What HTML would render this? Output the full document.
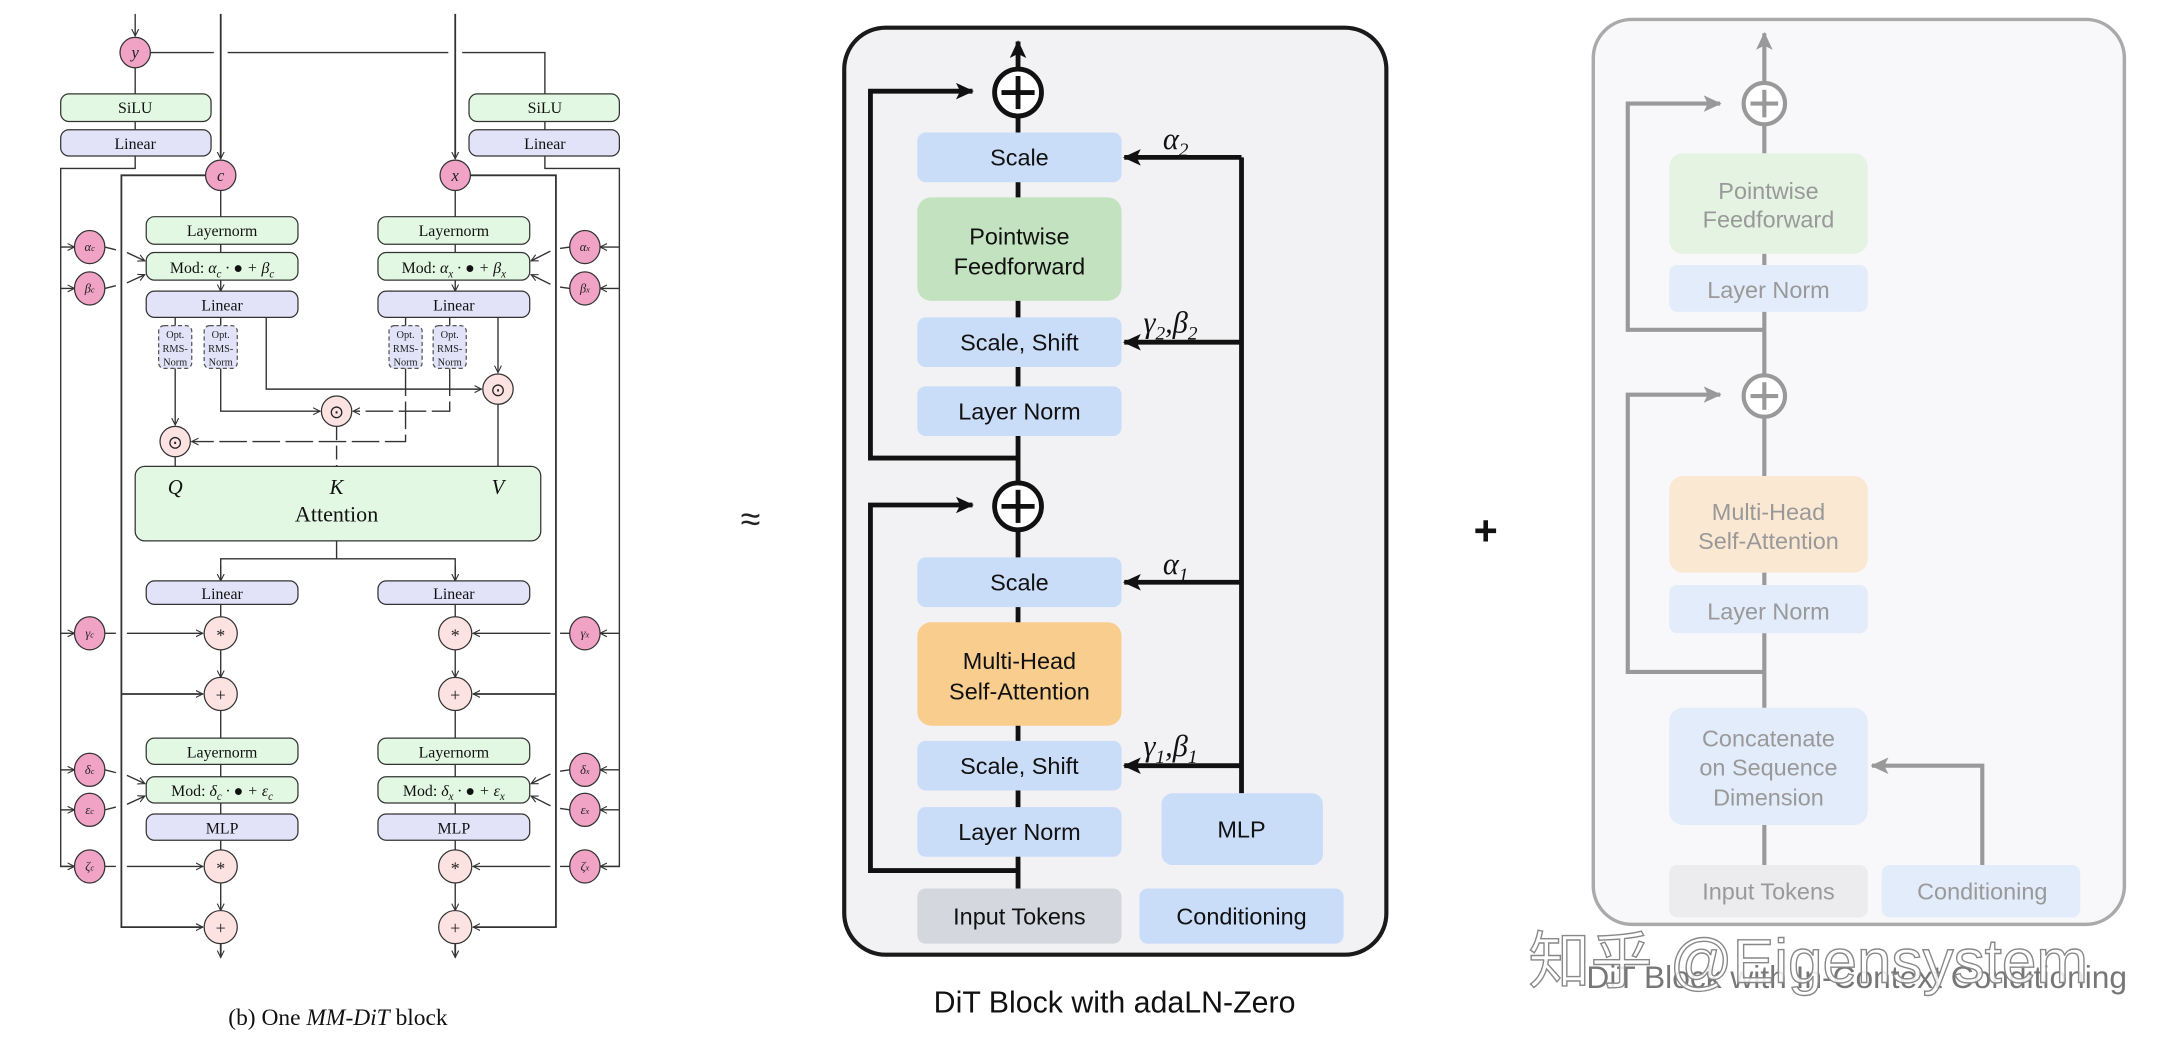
<!DOCTYPE html>
<html><head><meta charset="utf-8"><style>
html,body{margin:0;padding:0;background:#fff;width:2163px;height:1050px;overflow:hidden}
svg{display:block}
.serif{font-family:"Liberation Serif",serif}
.sans{font-family:"Liberation Sans",sans-serif}
</style></head><body>
<svg width="2163" height="1050" viewBox="0 0 1568 761" xmlns="http://www.w3.org/2000/svg">
<defs>
<marker id="a" markerWidth="6" markerHeight="6" refX="5" refY="3" orient="auto" markerUnits="userSpaceOnUse"><path d="M0,0.5 L5,3 L0,5.5" fill="none" stroke="#333" stroke-width="0.8"/></marker>
<marker id="b" markerWidth="14" markerHeight="12" refX="12" refY="6" orient="auto" markerUnits="userSpaceOnUse"><path d="M0,0 L13,6 L0,12 L3,6Z" fill="#111"/></marker>
<marker id="g" markerWidth="14" markerHeight="12" refX="12" refY="6" orient="auto" markerUnits="userSpaceOnUse"><path d="M0,0 L13,6 L0,12 L3,6Z" fill="#999"/></marker>
</defs>
<rect width="1568" height="761" fill="#fff"/>

<!-- ============ LEFT PANEL ============ -->
<g stroke="#333" stroke-width="1" fill="none">
<line x1="98" y1="10" x2="98" y2="26" marker-end="url(#a)"/>
<line x1="160" y1="10" x2="160" y2="115" marker-end="url(#a)" stroke-width="1.3"/>
<line x1="330" y1="10" x2="330" y2="115" marker-end="url(#a)" stroke-width="1.3"/>
<polyline points="109,38 155,38"/><polyline points="165,38 325,38"/><polyline points="335,38 395,38 395,68"/>
<line x1="98" y1="49" x2="98" y2="68"/>
<line x1="98" y1="88" x2="98" y2="94"/><line x1="395" y1="88" x2="395" y2="94"/>
<polyline points="98,113 98,122 44,122 44,628 55,628"/>
<polyline points="395,113 395,122 449,122 449,628 435,628"/>
<line x1="44" y1="179" x2="54" y2="179" marker-end="url(#a)"/><line x1="44" y1="209" x2="54" y2="209" marker-end="url(#a)"/>
<line x1="44" y1="459" x2="54" y2="459" marker-end="url(#a)"/><line x1="44" y1="558" x2="54" y2="558" marker-end="url(#a)"/>
<line x1="44" y1="587" x2="54" y2="587" marker-end="url(#a)"/><line x1="44" y1="628" x2="54" y2="628" marker-end="url(#a)"/>
<line x1="449" y1="179" x2="435" y2="179" marker-end="url(#a)"/><line x1="449" y1="209" x2="435" y2="209" marker-end="url(#a)"/>
<line x1="449" y1="459" x2="435" y2="459" marker-end="url(#a)"/><line x1="449" y1="558" x2="435" y2="558" marker-end="url(#a)"/>
<line x1="449" y1="587" x2="435" y2="587" marker-end="url(#a)"/><line x1="449" y1="628" x2="435" y2="628" marker-end="url(#a)"/>
<polyline points="149,127 88,127 88,672 147,672" stroke-width="1.3" marker-end="url(#a)"/>
<line x1="88" y1="503" x2="147" y2="503" stroke-width="1.3" marker-end="url(#a)"/>
<polyline points="341,127 403,127 403,672 343,672" stroke-width="1.3" marker-end="url(#a)"/>
<line x1="403" y1="503" x2="343" y2="503" stroke-width="1.3" marker-end="url(#a)"/>
<line x1="76" y1="179" x2="84" y2="181"/><line x1="92" y1="183" x2="105" y2="189" marker-end="url(#a)"/>
<line x1="76" y1="209" x2="84" y2="207"/><line x1="92" y1="205" x2="105" y2="199" marker-end="url(#a)"/>
<line x1="76" y1="558" x2="84" y2="560"/><line x1="92" y1="562" x2="105" y2="568" marker-end="url(#a)"/>
<line x1="76" y1="587" x2="84" y2="585"/><line x1="92" y1="583" x2="105" y2="577" marker-end="url(#a)"/>
<line x1="76" y1="459" x2="84" y2="459"/><line x1="92" y1="459" x2="147" y2="459" marker-end="url(#a)"/>
<line x1="76" y1="628" x2="84" y2="628"/><line x1="92" y1="628" x2="147" y2="628" marker-end="url(#a)"/>
<line x1="413" y1="179" x2="406" y2="180"/><line x1="399" y1="182" x2="385" y2="189" marker-end="url(#a)"/>
<line x1="413" y1="209" x2="406" y2="208"/><line x1="399" y1="206" x2="385" y2="199" marker-end="url(#a)"/>
<line x1="413" y1="558" x2="406" y2="559"/><line x1="399" y1="561" x2="385" y2="568" marker-end="url(#a)"/>
<line x1="413" y1="587" x2="406" y2="586"/><line x1="399" y1="584" x2="385" y2="577" marker-end="url(#a)"/>
<line x1="413" y1="459" x2="406" y2="459"/><line x1="399" y1="459" x2="343" y2="459" marker-end="url(#a)"/>
<line x1="413" y1="628" x2="406" y2="628"/><line x1="399" y1="628" x2="343" y2="628" marker-end="url(#a)"/>
<line x1="160" y1="138" x2="160" y2="157"/><line x1="330" y1="138" x2="330" y2="157"/>
<line x1="160" y1="177" x2="160" y2="183"/><line x1="330" y1="177" x2="330" y2="183"/>
<line x1="160" y1="203" x2="160" y2="211" marker-end="url(#a)"/><line x1="330" y1="203" x2="330" y2="211" marker-end="url(#a)"/>
<line x1="127" y1="230" x2="127" y2="236"/><line x1="160" y1="230" x2="160" y2="236"/>
<line x1="294" y1="230" x2="294" y2="236"/><line x1="326" y1="230" x2="326" y2="236"/>
<line x1="127" y1="267" x2="127" y2="308" marker-end="url(#a)"/>
<polyline points="160,267 160,298 232,298" marker-end="url(#a)"/>
<polyline points="193,230 193,282 349,282" marker-end="url(#a)"/>
<polyline points="326,267 326,298 256,298" marker-end="url(#a)" stroke-dasharray="20,4"/>
<polyline points="294,267 294,320 139,320" marker-end="url(#a)" stroke-dasharray="20,4"/>
<line x1="361" y1="230" x2="361" y2="270" marker-end="url(#a)"/>
<line x1="127" y1="331" x2="127" y2="338"/><line x1="244" y1="309" x2="244" y2="338" stroke-dasharray="10,4"/>
<line x1="361" y1="293" x2="361" y2="338"/>
<line x1="244" y1="392" x2="244" y2="405"/>
<polyline points="160,421 160,405 330,405 330,421"/>
<line x1="160" y1="410" x2="160" y2="421" marker-end="url(#a)"/><line x1="330" y1="410" x2="330" y2="421" marker-end="url(#a)"/>
<line x1="160" y1="438" x2="160" y2="447"/><line x1="330" y1="438" x2="330" y2="447"/>
<line x1="160" y1="471" x2="160" y2="491" marker-end="url(#a)"/><line x1="330" y1="471" x2="330" y2="491" marker-end="url(#a)"/>
<line x1="160" y1="515" x2="160" y2="535"/><line x1="330" y1="515" x2="330" y2="535"/>
<line x1="160" y1="554" x2="160" y2="563"/><line x1="330" y1="554" x2="330" y2="563"/>
<line x1="160" y1="582" x2="160" y2="590"/><line x1="330" y1="582" x2="330" y2="590"/>
<line x1="160" y1="609" x2="160" y2="616"/><line x1="330" y1="609" x2="330" y2="616"/>
<line x1="160" y1="640" x2="160" y2="660" marker-end="url(#a)"/><line x1="330" y1="640" x2="330" y2="660" marker-end="url(#a)"/>
<line x1="160" y1="684" x2="160" y2="694" marker-end="url(#a)" stroke-width="1.3"/><line x1="330" y1="684" x2="330" y2="694" marker-end="url(#a)" stroke-width="1.3"/>
</g>
<g stroke="#333" stroke-width="0.9" class="serif" font-size="11.5" text-anchor="middle" fill="#111">
<rect x="44" y="68" width="109" height="20" rx="6" fill="#e2f8e2"/><text x="98" y="82" stroke="none">SiLU</text>
<rect x="44" y="94" width="109" height="19" rx="6" fill="#e2e2f8"/><text x="98" y="108" stroke="none">Linear</text>
<rect x="340" y="68" width="109" height="20" rx="6" fill="#e2f8e2"/><text x="395" y="82" stroke="none">SiLU</text>
<rect x="340" y="94" width="109" height="19" rx="6" fill="#e2e2f8"/><text x="395" y="108" stroke="none">Linear</text>
<rect x="106" y="157" width="110" height="20" rx="6" fill="#e2f8e2"/><text x="161" y="171" stroke="none">Layernorm</text>
<rect x="274" y="157" width="110" height="20" rx="6" fill="#e2f8e2"/><text x="329" y="171" stroke="none">Layernorm</text>
<rect x="106" y="183" width="110" height="20" rx="6" fill="#e2f8e2"/><text x="161" y="198" stroke="none">Mod: <tspan font-style="italic">α<tspan font-size="8" dy="3">c</tspan><tspan dy="-3"> · ● + β</tspan><tspan font-size="8" dy="3">c</tspan></tspan></text>
<rect x="274" y="183" width="110" height="20" rx="6" fill="#e2f8e2"/><text x="329" y="198" stroke="none">Mod: <tspan font-style="italic">α<tspan font-size="8" dy="3">x</tspan><tspan dy="-3"> · ● + β</tspan><tspan font-size="8" dy="3">x</tspan></tspan></text>
<rect x="106" y="211" width="110" height="19" rx="6" fill="#e2e2f8"/><text x="161" y="225" stroke="none">Linear</text>
<rect x="274" y="211" width="110" height="19" rx="6" fill="#e2e2f8"/><text x="329" y="225" stroke="none">Linear</text>
<rect x="106" y="421" width="110" height="17" rx="6" fill="#e2e2f8"/><text x="161" y="434" stroke="none">Linear</text>
<rect x="274" y="421" width="110" height="17" rx="6" fill="#e2e2f8"/><text x="329" y="434" stroke="none">Linear</text>
<rect x="106" y="535" width="110" height="19" rx="6" fill="#e2f8e2"/><text x="161" y="549" stroke="none">Layernorm</text>
<rect x="274" y="535" width="110" height="19" rx="6" fill="#e2f8e2"/><text x="329" y="549" stroke="none">Layernorm</text>
<rect x="106" y="563" width="110" height="19" rx="6" fill="#e2f8e2"/><text x="161" y="577" stroke="none">Mod: <tspan font-style="italic">δ<tspan font-size="8" dy="3">c</tspan><tspan dy="-3"> · ● + ε</tspan><tspan font-size="8" dy="3">c</tspan></tspan></text>
<rect x="274" y="563" width="110" height="19" rx="6" fill="#e2f8e2"/><text x="329" y="577" stroke="none">Mod: <tspan font-style="italic">δ<tspan font-size="8" dy="3">x</tspan><tspan dy="-3"> · ● + ε</tspan><tspan font-size="8" dy="3">x</tspan></tspan></text>
<rect x="106" y="590" width="110" height="19" rx="6" fill="#e2e2f8"/><text x="161" y="604" stroke="none">MLP</text>
<rect x="274" y="590" width="110" height="19" rx="6" fill="#e2e2f8"/><text x="329" y="604" stroke="none">MLP</text>
<rect x="98" y="338" width="294" height="54" rx="7" fill="#e2f8e2"/>
<text x="127" y="358" font-size="15" font-style="italic" stroke="none">Q</text>
<text x="244" y="358" font-size="15" font-style="italic" stroke="none">K</text>
<text x="361" y="358" font-size="15" font-style="italic" stroke="none">V</text>
<text x="244" y="378" font-size="16" stroke="none">Attention</text>
</g>
<g stroke="#555" stroke-width="0.9" stroke-dasharray="3,2" fill="#e2e2f8">
<rect x="115" y="236" width="24" height="31" rx="4"/><rect x="148" y="236" width="24" height="31" rx="4"/>
<rect x="282" y="236" width="24" height="31" rx="4"/><rect x="314" y="236" width="24" height="31" rx="4"/>
</g>
<g class="serif" font-size="7.5" text-anchor="middle" fill="#222">
<text x="127" y="245">Opt.</text><text x="127" y="255">RMS-</text><text x="127" y="265">Norm</text>
<text x="160" y="245">Opt.</text><text x="160" y="255">RMS-</text><text x="160" y="265">Norm</text>
<text x="294" y="245">Opt.</text><text x="294" y="255">RMS-</text><text x="294" y="265">Norm</text>
<text x="326" y="245">Opt.</text><text x="326" y="255">RMS-</text><text x="326" y="265">Norm</text>
</g>
<g stroke="#333" stroke-width="0.9" fill="#fde2e2">
<circle cx="127" cy="320" r="11"/><circle cx="244" cy="298" r="11"/><circle cx="361" cy="282" r="11"/>
<circle cx="160" cy="459" r="12"/><circle cx="330" cy="459" r="12"/>
<circle cx="160" cy="503" r="12"/><circle cx="330" cy="503" r="12"/>
<circle cx="160" cy="628" r="12"/><circle cx="330" cy="628" r="12"/>
<circle cx="160" cy="672" r="12"/><circle cx="330" cy="672" r="12"/>
</g>
<g class="serif" text-anchor="middle" fill="#222" font-size="13">
<text x="127" y="325">⊙</text><text x="244" y="303">⊙</text><text x="361" y="287">⊙</text>
<text x="160" y="465">*</text><text x="330" y="465">*</text><text x="160" y="634">*</text><text x="330" y="634">*</text>
<text x="160" y="508">+</text><text x="330" y="508">+</text><text x="160" y="677">+</text><text x="330" y="677">+</text>
</g>
<g stroke="#333" stroke-width="0.9" fill="#f0a3c4">
<circle cx="98" cy="38" r="11"/><circle cx="160" cy="127" r="11"/><circle cx="330" cy="127" r="11"/>
<ellipse cx="65" cy="179" rx="11" ry="12"/><ellipse cx="65" cy="209" rx="11" ry="12"/><ellipse cx="65" cy="459" rx="11" ry="12"/>
<ellipse cx="65" cy="558" rx="11" ry="12"/><ellipse cx="65" cy="587" rx="11" ry="12"/><ellipse cx="65" cy="628" rx="11" ry="12"/>
<ellipse cx="424" cy="179" rx="11" ry="12"/><ellipse cx="424" cy="209" rx="11" ry="12"/><ellipse cx="424" cy="459" rx="11" ry="12"/>
<ellipse cx="424" cy="558" rx="11" ry="12"/><ellipse cx="424" cy="587" rx="11" ry="12"/><ellipse cx="424" cy="628" rx="11" ry="12"/>
</g>
<g class="serif" font-style="italic" text-anchor="middle" fill="#222" font-size="12">
<text x="98" y="42">y</text><text x="160" y="131">c</text><text x="330" y="131">x</text>
</g>
<g class="serif" font-style="italic" text-anchor="middle" fill="#222" font-size="9">
<text x="65" y="182">α<tspan font-size="6">c</tspan></text><text x="65" y="212">β<tspan font-size="6">c</tspan></text>
<text x="65" y="462">γ<tspan font-size="6">c</tspan></text><text x="65" y="561">δ<tspan font-size="6">c</tspan></text>
<text x="65" y="590">ε<tspan font-size="6">c</tspan></text><text x="65" y="631">ζ<tspan font-size="6">c</tspan></text>
<text x="424" y="182">α<tspan font-size="6">x</tspan></text><text x="424" y="212">β<tspan font-size="6">x</tspan></text>
<text x="424" y="462">γ<tspan font-size="6">x</tspan></text><text x="424" y="561">δ<tspan font-size="6">x</tspan></text>
<text x="424" y="590">ε<tspan font-size="6">x</tspan></text><text x="424" y="631">ζ<tspan font-size="6">x</tspan></text>
</g>
<text x="245" y="743" class="serif" font-size="17" text-anchor="middle" fill="#111">(b) One <tspan font-style="italic">MM-DiT</tspan> block</text>

<text x="544" y="385" class="sans" font-size="26" text-anchor="middle" fill="#222">≈</text>

<!-- ============ MIDDLE PANEL ============ -->
<rect x="612" y="20" width="393" height="672" rx="30" fill="#f2f2f4" stroke="#1a1a1a" stroke-width="3"/>
<g stroke="#111" stroke-width="3.5" fill="none">
<line x1="738" y1="644" x2="738" y2="84"/>
<line x1="738" y1="50" x2="738" y2="30" marker-end="url(#b)"/>
<polyline points="738,332 631,332 631,66 705,66" marker-end="url(#b)"/>
<polyline points="738,631 631,631 631,366 705,366" marker-end="url(#b)"/>
<line x1="900" y1="575" x2="900" y2="114"/>
<line x1="900" y1="114" x2="815" y2="114" marker-end="url(#b)"/>
<line x1="900" y1="248" x2="815" y2="248" marker-end="url(#b)"/>
<line x1="900" y1="422" x2="815" y2="422" marker-end="url(#b)"/>
<line x1="900" y1="555" x2="815" y2="555" marker-end="url(#b)"/>
</g>
<g stroke="#111" stroke-width="3.5" fill="#fff">
<circle cx="738" cy="67" r="17"/><circle cx="738" cy="367" r="17"/>
</g>
<g stroke="#111" stroke-width="3.5">
<line x1="726" y1="67" x2="750" y2="67"/><line x1="738" y1="55" x2="738" y2="79"/>
<line x1="726" y1="367" x2="750" y2="367"/><line x1="738" y1="355" x2="738" y2="379"/>
</g>
<g class="sans" font-size="17" text-anchor="middle" fill="#111">
<rect x="665" y="96" width="148" height="36" rx="6" fill="#c9dcf8"/><text x="739" y="120">Scale</text>
<rect x="665" y="143" width="148" height="75" rx="10" fill="#c3e2bf"/><text x="739" y="177">Pointwise</text><text x="739" y="199">Feedforward</text>
<rect x="665" y="230" width="148" height="36" rx="6" fill="#c9dcf8"/><text x="739" y="254">Scale, Shift</text>
<rect x="665" y="280" width="148" height="36" rx="6" fill="#c9dcf8"/><text x="739" y="304">Layer Norm</text>
<rect x="665" y="404" width="148" height="36" rx="6" fill="#c9dcf8"/><text x="739" y="428">Scale</text>
<rect x="665" y="451" width="148" height="75" rx="10" fill="#f9cd8e"/><text x="739" y="485">Multi-Head</text><text x="739" y="507">Self-Attention</text>
<rect x="665" y="537" width="148" height="36" rx="6" fill="#c9dcf8"/><text x="739" y="561">Scale, Shift</text>
<rect x="665" y="585" width="148" height="36" rx="6" fill="#c9dcf8"/><text x="739" y="609">Layer Norm</text>
<rect x="665" y="644" width="148" height="40" rx="6" fill="#d5d7df"/><text x="739" y="670">Input Tokens</text>
<rect x="842" y="575" width="117" height="52" rx="8" fill="#c9dcf8"/><text x="900" y="607">MLP</text>
<rect x="826" y="644" width="148" height="40" rx="6" fill="#c9dcf8"/><text x="900" y="670">Conditioning</text>
</g>
<g class="serif" font-style="italic" font-size="22" fill="#111">
<text x="843" y="108">α<tspan font-size="14" dy="5">2</tspan></text>
<text x="829" y="241">γ<tspan font-size="14" dy="5">2</tspan><tspan dy="-5">,β</tspan><tspan font-size="14" dy="5">2</tspan></text>
<text x="843" y="416">α<tspan font-size="14" dy="5">1</tspan></text>
<text x="829" y="548">γ<tspan font-size="14" dy="5">1</tspan><tspan dy="-5">,β</tspan><tspan font-size="14" dy="5">1</tspan></text>
</g>
<text x="808" y="734" class="sans" font-size="22" text-anchor="middle" fill="#111">DiT Block with adaLN-Zero</text>

<text x="1077" y="395" class="sans" font-size="30" font-weight="bold" text-anchor="middle" fill="#111">+</text>

<!-- ============ RIGHT PANEL ============ -->
<rect x="1155" y="14" width="385" height="656" rx="28" fill="#f8f8fa" stroke="#aaa" stroke-width="2.5"/>
<g stroke="#999" stroke-width="3" fill="none">
<line x1="1279" y1="627" x2="1279" y2="90"/>
<line x1="1279" y1="60" x2="1279" y2="24" marker-end="url(#g)"/>
<polyline points="1279,239 1180,239 1180,75 1247,75" marker-end="url(#g)"/>
<polyline points="1279,487 1180,487 1180,286 1247,286" marker-end="url(#g)"/>
<polyline points="1437,627 1437,555 1357,555" marker-end="url(#g)"/>
</g>
<g stroke="#999" stroke-width="3" fill="#fff">
<circle cx="1279" cy="75" r="15"/><circle cx="1279" cy="287" r="15"/>
</g>
<g stroke="#999" stroke-width="3">
<line x1="1269" y1="75" x2="1289" y2="75"/><line x1="1279" y1="65" x2="1279" y2="85"/>
<line x1="1269" y1="287" x2="1289" y2="287"/><line x1="1279" y1="277" x2="1279" y2="297"/>
</g>
<g class="sans" font-size="17" text-anchor="middle" fill="#999">
<rect x="1210" y="111" width="144" height="73" rx="10" fill="#e5f3e3"/><text x="1282" y="144">Pointwise</text><text x="1282" y="165">Feedforward</text>
<rect x="1210" y="192" width="144" height="34" rx="6" fill="#e3ecfa"/><text x="1282" y="216">Layer Norm</text>
<rect x="1210" y="345" width="144" height="70" rx="10" fill="#fbe8d3"/><text x="1282" y="377">Multi-Head</text><text x="1282" y="398">Self-Attention</text>
<rect x="1210" y="424" width="144" height="35" rx="6" fill="#e3ecfa"/><text x="1282" y="449">Layer Norm</text>
<rect x="1210" y="513" width="144" height="85" rx="10" fill="#e3ecfa"/><text x="1282" y="541">Concatenate</text><text x="1282" y="562">on Sequence</text><text x="1282" y="584">Dimension</text>
<rect x="1210" y="627" width="144" height="38" rx="6" fill="#ececef"/><text x="1282" y="652">Input Tokens</text>
<rect x="1364" y="627" width="144" height="38" rx="6" fill="#e3ecfa"/><text x="1437" y="652">Conditioning</text>
</g>
<text x="1346" y="716" class="sans" font-size="23" text-anchor="middle" fill="#777">DiT Block with In-Context Conditioning</text>
<text x="1108" y="712" font-family="'Liberation Sans','Noto Sans CJK SC',sans-serif" font-size="45" fill="#fff" fill-opacity="0.85" stroke="#888" stroke-width="1">知乎 @Eigensystem</text>
</svg>
</body></html>
